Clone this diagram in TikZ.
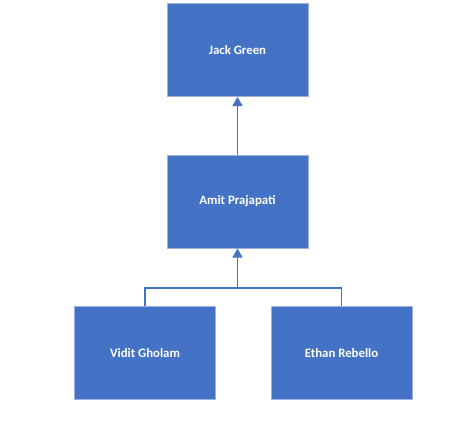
\documentclass[tikz,border=0pt]{standalone}
\usepackage{fontspec}
\setmainfont{Carlito}
\usepackage{xcolor}
\usetikzlibrary{arrows.meta, positioning}

\definecolor{officeblue}{HTML}{4472C4}
\definecolor{edgeblue}{HTML}{9DB3DD}

\begin{document}
\begin{tikzpicture}[
    x=1pt, y=1pt,
    % ── Person box style ─────────────────────────────────────────────
    person/.style={
        rectangle, fill=officeblue, draw=edgeblue, line width=1pt,
        minimum width=141pt, minimum height=93pt,
        align=center, text=white, font=\fontsize{12.8}{15}\selectfont\bfseries
    },
    % ── Connectors ───────────────────────────────────────────────────
    link/.style={draw=officeblue, line width=1.3pt},
    arrow/.style={link, -{Triangle[length=9pt, width=10pt]}}
]

    \useasboundingbox (0,0) rectangle (474,-442);

% ══════════════════════════════════════════════════════════════════════
% NODE PLACEMENT
% ══════════════════════════════════════════════════════════════════════

    \node[person] (jack)  at (237.5, -50)   {Jack Green};
    \node[person] (amit)  at (237.5, -201.5) {Amit Prajapati};
    \node[person] (vidit) at (145,   -353)  {Vidit Gholam};
    \node[person] (ethan) at (341.5, -353)  {Ethan Rebello};

% ══════════════════════════════════════════════════════════════════════
% CONNECTIONS
% ══════════════════════════════════════════════════════════════════════

    \path[arrow] (amit.north) -- (jack.south);

    \coordinate (fork) at (amit.south |- 0,-288);
    \path[link] (vidit.north) |- (fork) -| (ethan.north);
    \path[arrow] (fork) -- (amit.south);

\end{tikzpicture}
\end{document}
